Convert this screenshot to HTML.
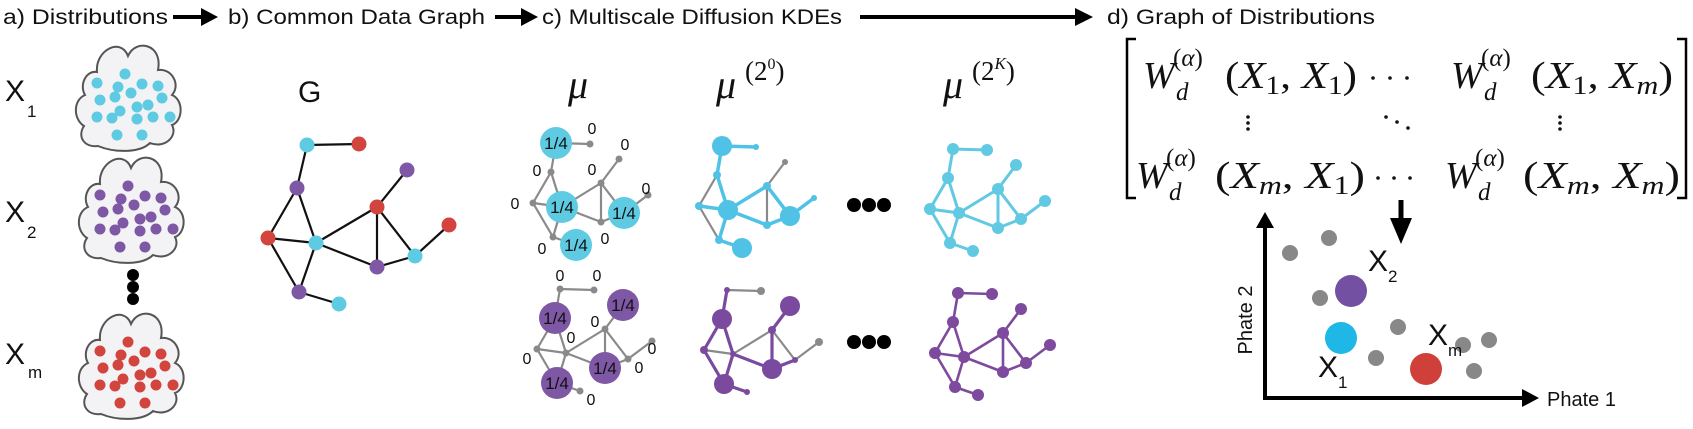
<!DOCTYPE html>
<html><head><meta charset="utf-8"><style>
html,body{margin:0;padding:0;background:#fff;width:1693px;height:429px;overflow:hidden}
svg{display:block}
.t{font-family:"Liberation Sans",sans-serif;fill:#111}
.m{font-family:"Liberation Serif",serif;fill:#111}
</style></head><body>
<svg id="fig" width="1693" height="429" viewBox="0 0 1693 429" xmlns="http://www.w3.org/2000/svg">
<g>
<text class="t" x="3" y="24" font-size="21" textLength="165" lengthAdjust="spacingAndGlyphs">a) Distributions</text>
<text class="t" x="228" y="24" font-size="21" textLength="257" lengthAdjust="spacingAndGlyphs">b) Common Data Graph</text>
<text class="t" x="542" y="24" font-size="21" textLength="300" lengthAdjust="spacingAndGlyphs">c) Multiscale Diffusion KDEs</text>
<text class="t" x="1107" y="24" font-size="21" textLength="268" lengthAdjust="spacingAndGlyphs">d) Graph of Distributions</text>
<g><line x1="173" y1="17" x2="203" y2="17" stroke="#000" stroke-width="4"/><polygon points="201,8 218,17 201,26" fill="#000"/></g>
<g><line x1="495" y1="17" x2="523" y2="17" stroke="#000" stroke-width="4"/><polygon points="521,8 538,17 521,26" fill="#000"/></g>
<g><line x1="860" y1="17" x2="1078" y2="17" stroke="#000" stroke-width="4"/><polygon points="1075,8 1093,17 1075,26" fill="#000"/></g>
</g>
<g id="panelA">
<text class="t" x="5" y="101" font-size="30">X</text>
<text class="t" x="27" y="117" font-size="17">1</text>
<text class="t" x="5" y="222" font-size="30">X</text>
<text class="t" x="27" y="238" font-size="17">2</text>
<text class="t" x="5" y="364" font-size="30">X</text>
<text class="t" x="28" y="378" font-size="17">m</text>
<circle cx="133" cy="275" r="6" fill="#000"/>
<circle cx="133" cy="287" r="6" fill="#000"/>
<circle cx="133" cy="299" r="6" fill="#000"/>
</g>
<g id="panelB">
<text class="t" x="298" y="102" font-size="30">G</text>
</g>
<g id="panelC">
<text class="m" x="568" y="98" font-size="40" font-style="italic">μ</text>
<text class="m" x="716" y="98" font-size="40" font-style="italic">μ</text>
<text class="m" x="745" y="80" font-size="27">(2<tspan font-size="16" dy="-11">0</tspan><tspan dy="11">)</tspan></text>
<text class="m" x="943" y="98" font-size="40" font-style="italic">μ</text>
<text class="m" x="972" y="80" font-size="27">(2<tspan font-size="17" font-style="italic" dy="-11">K</tspan><tspan dy="11">)</tspan></text>
<g><circle cx="854" cy="205" r="7"/><circle cx="869" cy="205" r="7"/><circle cx="884" cy="205" r="7"/></g>
<g><circle cx="854" cy="342" r="7"/><circle cx="869" cy="342" r="7"/><circle cx="884" cy="342" r="7"/></g>
</g>
<g id="panelD">
<polyline points="1136,39 1127,39 1127,198 1136,198" fill="none" stroke="#000" stroke-width="2.5"/>
<polyline points="1677,39 1686,39 1686,198 1677,198" fill="none" stroke="#000" stroke-width="2.5"/>
<g id="matrix"></g>
<g><line x1="1401" y1="200" x2="1401" y2="222" stroke="#000" stroke-width="5"/><polygon points="1390,218 1412,218 1401,244" fill="#000"/></g>
<g><line x1="1265" y1="226" x2="1265" y2="400" stroke="#000" stroke-width="4"/><polygon points="1256,228 1274,228 1265,212" fill="#000"/></g>
<g><line x1="1263" y1="398" x2="1525" y2="398" stroke="#000" stroke-width="4"/><polygon points="1522,389 1522,407 1539,398" fill="#000"/></g>
<text class="t" x="1547" y="406" font-size="20">Phate 1</text>
<text class="t" x="0" y="0" font-size="20" text-anchor="middle" transform="translate(1252,320) rotate(-90)">Phate 2</text>
<g id="scatter"></g>
</g>
</svg>
<script>
const NS='http://www.w3.org/2000/svg';
// ---------- data ----------
const blobOffsets=[0,112,268];
const blobColors=['#5ecbe3','#7e57a5','#d2443e'];
const blobDotX=[125,97,118,142,158,100,115,131,137,148,162,120,97,112,137,153,170,117,142];
const blobDotY=[74,83,87,84,86,100,97,93,107,105,98,111,117,118,119,117,117,135,135];
const gNodeX=[307,359,407,297,377,449,268,316,415,377,299,339];
const gNodeY=[145,144,170,188,207,225,238,243,256,267,292,304];
const gNodeColor=['c','r','p','p','r','r','r','c','c','p','p','c'];
const edgeA=[0,0,3,3,6,6,7,10,7,7,4,4,4,9,8];
const edgeB=[1,3,6,7,7,10,10,11,4,9,2,9,8,8,5];
const muX=[556,590,619,551,601,648,533,562,624,601,553,576];
const muY=[143,144,159,172,183,195,203,207,213,222,237,245];
const zeroTopX=[592,625,537,592,646,515,605,542];
const zeroTopY=[128,144,170,169,188,203,238,248];
const zeroBotX=[560,597,595,571,527,652,639,591];
const zeroBotY=[275,275,321,337,358,348,367,399];
const muTopR=[16,3.5,3.5,3.5,3.5,3.5,3.5,16,16,3.5,3.5,16];
const muBotR=[3.5,3.5,16,16,3.5,3.5,3.5,3.5,3.5,16,16,3.5];
const s0TopR=[10,3,3,4,4,3,4,10,10,4,4,10];
const s0TopGreyNodes=[2];
const s0TopGreyEdges=[2,5,11,10];
const s0BotR=[3,4,10,10,4,4,4,3,3,10,10,3];
const s0BotGreyNodes=[1,5];
const s0BotGreyEdges=[0,4,8,12,14];
const greyPtX=[1329,1290,1320,1398,1376,1463,1489,1474];
const greyPtY=[238,253,298,327,358,345,340,371];
const bigPtX=[1341,1351,1426];
const bigPtY=[338,291,369];
const bigPtColor=['#1fb8e6','#7450a2','#d0403b'];
const bigPtLabel=['1','2','m'];
const bigLabelX=[1318,1368,1428];
const bigLabelY=[377,271,345];
const COL={c:'#5ecbe3',p:'#7e57a5',r:'#d2443e',g:'#8a8a8a'};
const svg=document.getElementById('fig');
function el(tag,parent){const e=document.createElementNS(NS,tag);parent.appendChild(e);return e;}
// ---------- panel a ----------
const pa=document.getElementById('panelA');
const blobPath='M98,146 C84,148 77,136 84,126 C73,119 73,100 85,95 C79,85 86,70 97,72 C95,50 121,37 128,56 C136,38 163,44 158,70 C172,68 181,85 172,95 C184,100 183,121 172,125 C178,136 165,149 150,143 C140,153 115,153 98,146 Z';
blobOffsets.forEach((dy,bi)=>{
  const g=el('g',pa);
  
  
  g.setAttribute('transform','translate('+(bi===0?0:3)+','+dy+')');
  const p=el('path',g);
  
  
  p.setAttribute('d',blobPath);p.setAttribute('fill','#f3f3f5');p.setAttribute('stroke','#555');p.setAttribute('stroke-width','2');
  blobDotX.forEach((x,i)=>{
    const c=el('circle',g);
    
    
    c.setAttribute('cx',x);c.setAttribute('cy',blobDotY[i]);c.setAttribute('r',5.5);c.setAttribute('fill',blobColors[bi]);
  });
});
// ---------- panel b ----------
const pb=document.getElementById('panelB');
edgeA.forEach((a,i)=>{
  const b=edgeB[i];const l=el('line',pb);
  
  
  l.setAttribute('x1',gNodeX[a]);l.setAttribute('y1',gNodeY[a]);l.setAttribute('x2',gNodeX[b]);l.setAttribute('y2',gNodeY[b]);
  l.setAttribute('stroke','#111');l.setAttribute('stroke-width','2.2');
});
gNodeX.forEach((x,i)=>{
  const c=el('circle',pb);
  
  
  c.setAttribute('cx',x);c.setAttribute('cy',gNodeY[i]);c.setAttribute('r',7.5);c.setAttribute('fill',COL[gNodeColor[i]]);
});
// ---------- panel c ----------
const pc=document.getElementById('panelC');
function drawGraph(dx,dy,radii,col,greyNodes,greyEdges,edgeW,name,labelBig){
  const g=el('g',pc);
  
  
  edgeA.forEach((a,i)=>{
    const b=edgeB[i];const l=el('line',g);
    
    
    const grey=greyEdges===null||greyEdges.indexOf(i)>=0;
    l.setAttribute('x1',muX[a]+dx);l.setAttribute('y1',muY[a]+dy);l.setAttribute('x2',muX[b]+dx);l.setAttribute('y2',muY[b]+dy);
    l.setAttribute('stroke',grey?'#8a8a8a':col);l.setAttribute('stroke-width',grey?2.2:edgeW);
  });
  muX.forEach((x,i)=>{
    const c=el('circle',g);
    
    
    const grey=greyNodes===null?radii[i]<10:greyNodes.indexOf(i)>=0;
    c.setAttribute('cx',x+dx);c.setAttribute('cy',muY[i]+dy);c.setAttribute('r',radii[i]);c.setAttribute('fill',grey?'#8a8a8a':col);
    if(labelBig&&radii[i]>10){
      const t=el('text',g);
      
      
      t.setAttribute('x',x+dx);t.setAttribute('y',muY[i]+dy+6);t.setAttribute('text-anchor','middle');
      t.setAttribute('class','t');t.setAttribute('font-size','17');t.textContent='1/4';
    }
  });
  return g;
}
drawGraph(0,0,muTopR,'#5ecbe3',null,null,2.2,'mu-graph-x1',true);
drawGraph(4,146,muBotR,'#7e57a5',null,null,2.2,'mu-graph-x2',true);
drawGraph(166,3,s0TopR,'#4fc2e6',s0TopGreyNodes,s0TopGreyEdges,3.5,'kde-2-0-x1',false);
drawGraph(171,147,s0BotR,'#7a4a9e',s0BotGreyNodes,s0BotGreyEdges,3.2,'kde-2-0-x2',false);
drawGraph(397,6,muX.map(()=>6),'#62c9e3',[],[],3,'kde-2-k-x1',false);
drawGraph(402,150,muX.map(()=>6),'#7d4a9e',[],[],2.6,'kde-2-k-x2',false);
function zeros(xs,ys){xs.forEach((x,i)=>{
  const t=el('text',pc);
  
  
  t.setAttribute('x',x);t.setAttribute('y',ys[i]+6);t.setAttribute('text-anchor','middle');
  t.setAttribute('class','t');t.setAttribute('font-size','16');t.textContent='0';
});}
zeros(zeroTopX,zeroTopY);zeros(zeroBotX,zeroBotY);
// ---------- matrix ----------
const mx=document.getElementById('matrix');
const entryW=[1143,1451,1136,1445];
const entryArgX=[1225,1531,1215,1523];
const entryArgW=[132,142,150,157];
const entryBase=[88,88,188,188];
const entryA=['1','1','m','m'];
const entryB=['1','m','1','m'];
entryW.forEach((wx,i)=>{
  const yb=entryBase[i];
  const g=el('g',mx);
  
  
  const w=el('text',g);w.setAttribute('class','m');w.setAttribute('x',wx);w.setAttribute('y',yb);w.setAttribute('font-size','38');w.setAttribute('font-style','italic');w.textContent='W';
  const s=el('text',g);s.setAttribute('class','m');s.setAttribute('x',wx+30);s.setAttribute('y',yb-22);s.setAttribute('font-size','25');s.innerHTML='(<tspan font-style="italic">α</tspan>)';
  const d=el('text',g);d.setAttribute('class','m');d.setAttribute('x',wx+33);d.setAttribute('y',yb+12);d.setAttribute('font-size','25');d.setAttribute('font-style','italic');d.textContent='d';
  const a=el('text',g);a.setAttribute('class','m');a.setAttribute('x',entryArgX[i]);a.setAttribute('y',yb);a.setAttribute('font-size','38');
  a.setAttribute('textLength',entryArgW[i]);a.setAttribute('lengthAdjust','spacingAndGlyphs');
  const sa=entryA[i]==='m'?'<tspan font-style="italic">m</tspan>':entryA[i];
  const sb=entryB[i]==='m'?'<tspan font-style="italic">m</tspan>':entryB[i];
  a.innerHTML='(<tspan font-style="italic">X</tspan><tspan font-size="26" dy="6">'+sa+'</tspan><tspan dy="-6">, </tspan><tspan font-style="italic">X</tspan><tspan font-size="26" dy="6">'+sb+'</tspan><tspan dy="-6">)</tspan>';
});
const dotsX=[1373,1390,1407,1378,1394,1410,1248,1248,1248,1560,1560,1560,1386,1397,1408];
const dotsY=[78,78,78,178,178,178,117,123,129,117,123,129,117,122,128];
dotsX.forEach((x,i)=>{
  const c=el('circle',mx);
  
  
  c.setAttribute('cx',x);c.setAttribute('cy',dotsY[i]);c.setAttribute('r',1.8);c.setAttribute('fill','#111');
});
// ---------- scatter ----------
const sc=document.getElementById('scatter');
greyPtX.forEach((x,i)=>{
  const c=el('circle',sc);
  
  
  c.setAttribute('cx',x);c.setAttribute('cy',greyPtY[i]);c.setAttribute('r',8);c.setAttribute('fill','#888');
});
bigPtX.forEach((x,i)=>{
  const c=el('circle',sc);
  
  
  c.setAttribute('cx',x);c.setAttribute('cy',bigPtY[i]);c.setAttribute('r',16);c.setAttribute('fill',bigPtColor[i]);
  const t=el('text',sc);
  
  
  t.setAttribute('class','t');t.setAttribute('x',bigLabelX[i]);t.setAttribute('y',bigLabelY[i]);t.setAttribute('font-size','30');
  t.innerHTML='X<tspan font-size="17" dy="11">'+bigPtLabel[i]+'</tspan>';
});
</script>
</body></html>
